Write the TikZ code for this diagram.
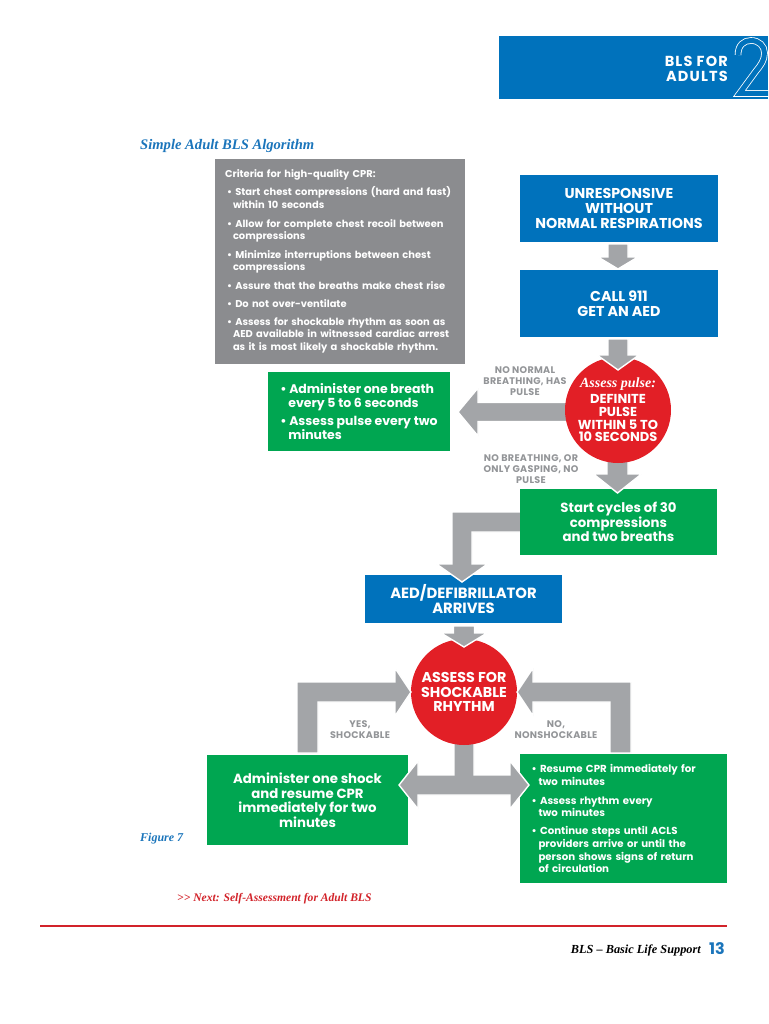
\documentclass[tikz,border=0pt]{standalone}
\usepackage{fontspec}
\setmainfont{Poppins}
\newfontfamily\slab{Liberation Serif}
\usetikzlibrary{calc}
\definecolor{hblue}{HTML}{0072BC}
\definecolor{boxgrey}{HTML}{8B8C8F}
\definecolor{agrey}{HTML}{A3A5A8}
\definecolor{lgrey}{HTML}{939598}
\definecolor{bgreen}{HTML}{00A651}
\definecolor{bred}{HTML}{E21F26}
\definecolor{tblue}{HTML}{1B75BB}
\definecolor{tred}{HTML}{D2232A}
\newcommand\fs[2]{\fontsize{#1}{#2}\selectfont}
\newcommand\trk[1]{\addfontfeature{LetterSpace=#1}}
% vertical block arrow: x, ytail, ytip, shaft half, head half, head length
\newcommand\vblk[6]{%
  \filldraw[arr] (#1-#4,#2) -- (#1+#4,#2) -- (#1+#4,#3-#6) -- (#1+#5,#3-#6) -- (#1,#3)
    -- (#1-#5,#3-#6) -- (#1-#4,#3-#6) -- cycle;}
\begin{document}
\begin{tikzpicture}[x=1pt,y=-1pt,
  box/.style={rectangle, inner sep=0pt, text=white, font=\bfseries\fs{13.3}{14.5}, align=center},
  capbox/.style={box, font=\bfseries\fs{14.3}{14.6}},
  bluebox/.style={capbox, fill=hblue},
  greenbox/.style={box, fill=bgreen},
  redcirc/.style={circle, fill=bred, inner sep=0pt, minimum size=106pt, text=white, align=center, font=\bfseries\fs{13}{12.7}},
  arr/.style={fill=agrey, draw=white, line width=1.4pt, line join=miter},
  lab/.style={text=lgrey, font=\bfseries\fs{9.6}{11}\trk{3}, align=center, inner sep=0pt},
  serif/.style={font=\slab\bfseries\itshape, inner sep=0pt}]
\useasboundingbox (0,0) rectangle (768,1024);

% header
\fill[hblue] (499,36) rectangle (768,99);
\node[anchor=east, text=white, font=\bfseries\fs{14.5}{15}\trk{8}, align=right, inner sep=0pt] (hdr) at (728,69) {BLS FOR\\ADULTS};
\begin{scope}
\clip (499,36) rectangle (768,99);
\draw[white, line width=0.8pt, double=hblue, double distance=5pt, line join=miter]
  (738,55) .. controls (738,45) and (744,40.5) .. (751,40.5) .. controls (759,40.5) and (764.5,46) .. (764.5,53)
  .. controls (764.5,60) and (761,65) .. (756,71) -- (739.5,93.5) -- (772,93.5);
\end{scope}

\node[serif, anchor=west, text=tblue, font=\slab\bfseries\itshape\fs{14.6}{16}] (title) at (140,146) {Simple Adult BLS Algorithm};

% criteria box
\node[box, fill=boxgrey, minimum width=250pt, minimum height=205pt, text width=230pt, align=left, font=\bfseries\fs{9.9}{12.6}] (crit) at (340,261.5) {%
Criteria for high-quality CPR:\\[5.3pt]
\hspace*{2pt}• Start chest compressions (hard and fast)\\
\hspace*{8pt}within 10 seconds\\[6.3pt]
\hspace*{2pt}• Allow for complete chest recoil between\\
\hspace*{8pt}compressions\\[5.8pt]
\hspace*{2pt}• Minimize interruptions between chest\\
\hspace*{8pt}compressions\\[5.8pt]
\hspace*{2pt}• Assure that the breaths make chest rise\\[5.3pt]
\hspace*{2pt}• Do not over-ventilate\\[5.3pt]
\hspace*{2pt}• Assess for shockable rhythm as soon as\\
\hspace*{8pt}AED available in witnessed cardiac arrest\\
\hspace*{8pt}as it is most likely a shockable rhythm.};

% top blue boxes
\node[bluebox, minimum width=198pt, minimum height=67pt] (b1) at (619,208.5) {UNRESPONSIVE\\WITHOUT\\NORMAL RESPIRATIONS};
\node[bluebox, minimum width=198pt, minimum height=67pt] (b2) at (619,303.5) {CALL 911\\GET AN AED};
\vblk{618}{244}{269}{10}{20}{12}

% AED box and bent arrow
\node[bluebox, minimum width=197pt, minimum height=48pt, font=\bfseries\fs{14.8}{14.5}] (aed) at (463.5,599) {AED/DEFIBRILLATOR\\ARRIVES};
\filldraw[arr] (524,512) -- (524,532) -- (472,532) -- (472,564) -- (487.5,564) -- (462,582)
  -- (436.5,564) -- (452,564) -- (452,512) -- cycle;
\node[greenbox, minimum width=197pt, minimum height=66pt] (b3) at (618.5,522) {Start cycles of 30\\compressions\\and two breaths};

% left green box
\node[greenbox, minimum width=182pt, minimum height=79pt, align=left, font=\bfseries\fs{12.5}{13.8}] (gl) at (359,411.5) {%
• Administer one breath\\
\hspace*{8pt}every 5 to 6 seconds\\[4pt]
• Assess pulse every two\\
\hspace*{8pt}minutes};

% arrows around circle 1
\filldraw[arr] (600,402.5) -- (600,421.5) -- (478,421.5) -- (478,436) -- (458,412) -- (478,388) -- (478,402.5) -- cycle;
\vblk{617.5}{440}{493}{10.5}{24}{19}
\node[redcirc] (c1) at (618,410) {{\slab\bfseries\itshape\fs{14}{14}Assess pulse:}\\[3pt]DEFINITE\\PULSE\\WITHIN 5 TO\\10 SECONDS};
\vblk{618}{339}{370}{10}{21}{15}

\node[lab] (l1) at (525,381) {NO NORMAL\\BREATHING, HAS\\PULSE};
\node[lab] (l2) at (531,469) {NO BREATHING, OR\\ONLY GASPING, NO\\PULSE};

% bottom boxes
\node[greenbox, minimum width=201pt, minimum height=90pt] (gb1) at (307.5,800) {Administer one shock\\and resume CPR\\immediately for two\\minutes};
\node[greenbox, minimum width=207pt, minimum height=129pt, text width=184pt, align=left, font=\bfseries\fs{10.2}{12.7}] (gb2) at (623.5,818.5) {%
• Resume CPR immediately for\\
\hspace*{7pt}two minutes\\[6.3pt]
• Assess rhythm every\\
\hspace*{7pt}two minutes\\[5.3pt]
• Continue steps until ACLS\\
\hspace*{7pt}providers arrive or until the\\
\hspace*{7pt}person shows signs of return\\
\hspace*{7pt}of circulation};

% T arrow from circle 2
\filldraw[arr] (454,700) -- (474,700) -- (474,775) -- (510,775) -- (510,761) -- (529,785) -- (510,809)
  -- (510,795) -- (418,795) -- (418,809) -- (399,785) -- (418,761) -- (418,775) -- (454,775) -- cycle;
\node[redcirc, font=\bfseries\fs{14.3}{14.5}] (c2) at (464,692) {ASSESS FOR\\SHOCKABLE\\RHYTHM};

% side arrows
\filldraw[arr] (297,753) -- (297,682) -- (395,682) -- (395,668) -- (411,692) -- (395,716) -- (395,702)
  -- (318,702) -- (318,753) -- cycle;
\filldraw[arr] (631,753) -- (631,682) -- (533,682) -- (533,668) -- (517,692) -- (533,716) -- (533,702)
  -- (610,702) -- (610,753) -- cycle;
\vblk{464}{626}{647}{10.5}{23}{14}

\node[lab] (l3) at (360,730) {YES,\\SHOCKABLE};
\node[lab] (l4) at (556,730) {NO,\\NONSHOCKABLE};

% footer
\node[serif, anchor=west, text=tblue, font=\slab\bfseries\itshape\fs{12}{13}] (fig) at (140,839) {Figure 7};
\node[serif, anchor=west, text=tred, font=\slab\bfseries\itshape\fs{11.6}{13}] (next) at (177,899) {>> Next: Self-Assessment for Adult BLS};
\draw[tred, line width=1.8pt] (40,926) -- (727,926);
\node[serif, anchor=east, text=black, font=\slab\bfseries\itshape\fs{12.3}{13}] (foot) at (701,950) {BLS – Basic Life Support};
\node[anchor=west, inner sep=0pt, text=tblue, font=\bfseries\fs{16}{18}] (pg) at (709,949) {13};
\end{tikzpicture}
\end{document}
